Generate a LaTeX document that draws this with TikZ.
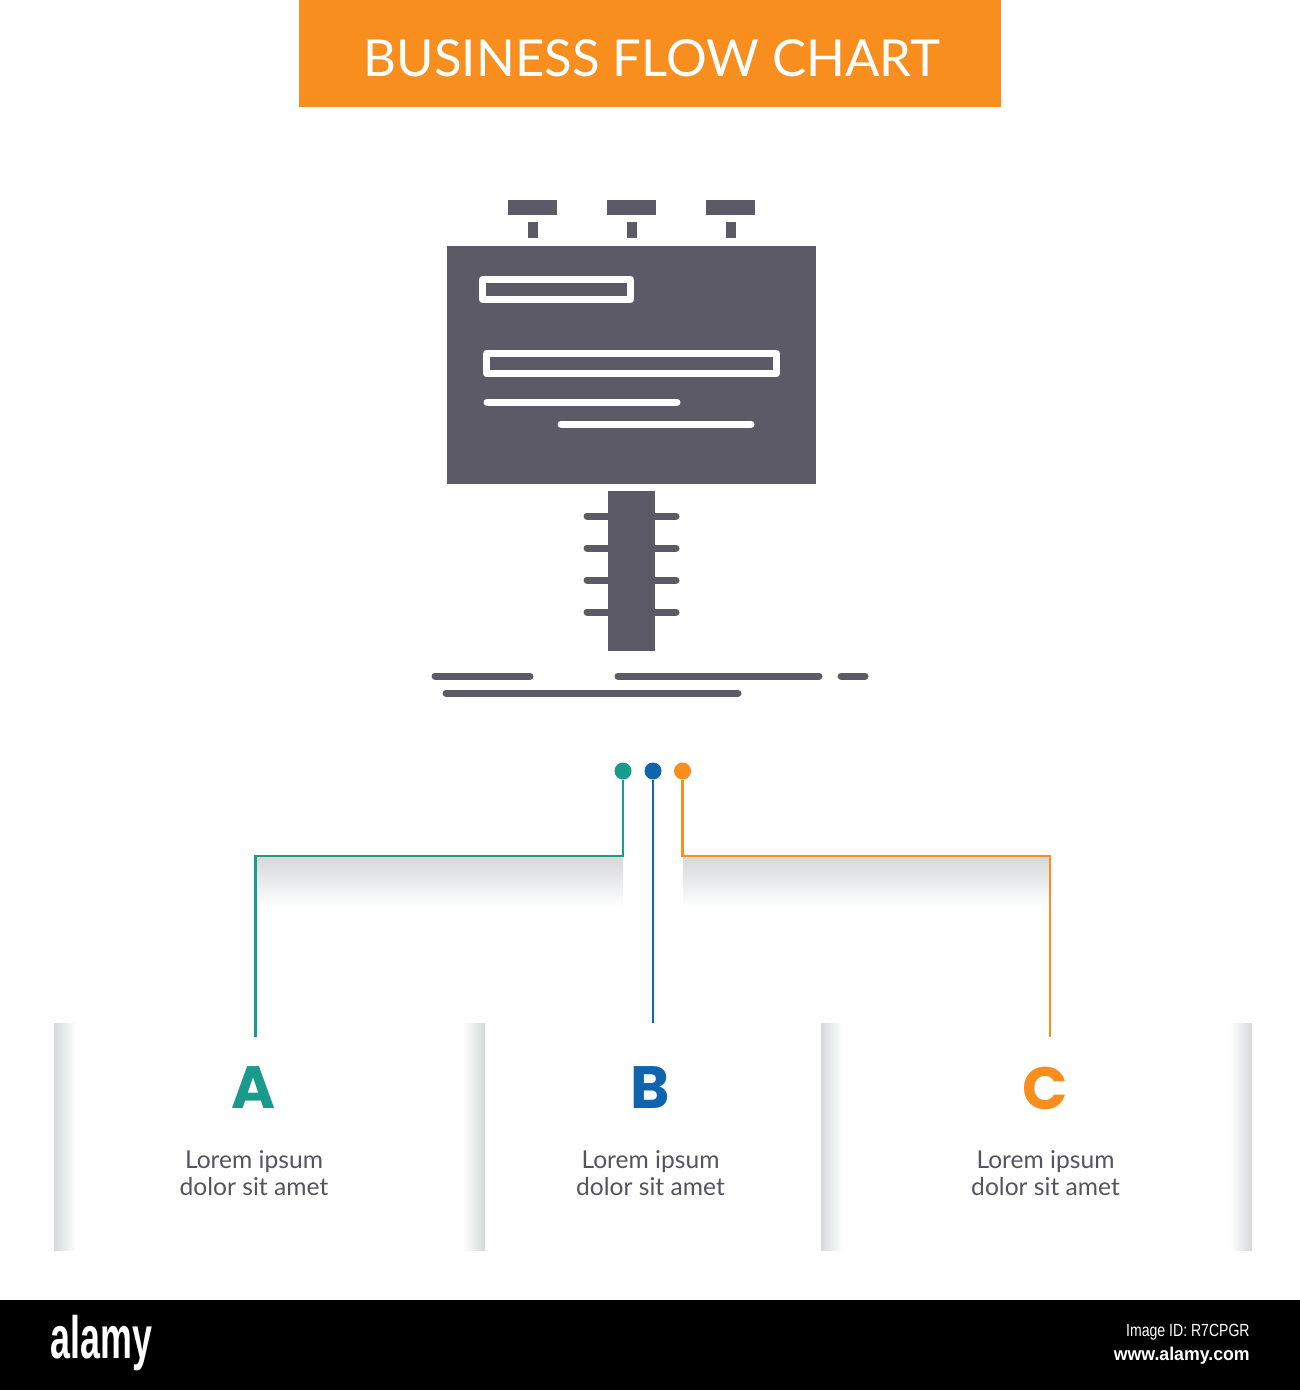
\documentclass[tikz,border=0pt]{standalone}
\usepackage{fontspec}
\setmainfont{Lato}
\newfontfamily\letterfont{Poppins}
\newfontfamily\markfont{Liberation Sans}
\usetikzlibrary{positioning}
\definecolor{slate}{RGB}{91,90,102}
\definecolor{inkgray}{RGB}{85,83,95}
\definecolor{teal}{RGB}{26,154,138}
\definecolor{ocean}{RGB}{15,100,173}
\definecolor{amber}{RGB}{247,142,30}
\definecolor{haze}{RGB}{214,216,217}
\tikzset{
  x=0.02cm,y=-0.02cm,
  solid/.style={fill=slate},
  bar/.style={draw=slate,line width=1.4mm,line cap=round},
  whitebar/.style={draw=white,line width=1.4mm,line cap=round},
  frame/.style={draw=white,line width=1.4mm,line join=round},
  wire/.style={draw=#1,line width=1.25pt},
  dot/.style={circle,fill=#1,inner sep=0pt,minimum size=3.4mm},
  letter/.style={text=#1,font=\letterfont\bfseries\fontsize{34}{36}\selectfont},
  caption/.style={text=inkgray,align=center,font=\fontsize{14}{15.3}\selectfont},
}
\begin{document}
\begin{tikzpicture}
  \useasboundingbox (0,0) rectangle (1300,1390);
  % title
  \fill[amber] (299,0) rectangle (1001,107);
  \node[text=white,font=\fontsize{29}{30}\selectfont] (title) at (652,58) {BUSINESS FLOW CHART};
  % billboard
  \foreach \x in {508,607,706} {
    \fill[solid] (\x,200) rectangle ++(49,15);
    \fill[solid] (\x+20,222) rectangle ++(10,16);
  }
  \fill[solid] (447,246) rectangle (816,484);
  \draw[frame] (482.5,279.5) rectangle (630.5,299.5);
  \draw[frame] (486.5,353.5) rectangle (776.5,373.5);
  \draw[whitebar] (487,402) -- (677,402);
  \draw[whitebar] (561,424) -- (751,424);
  \fill[solid] (608,491) rectangle (655,651);
  \foreach \y in {516,548,580,612} \draw[bar] (587,\y) -- (676,\y);
  \draw[bar] (435,676) -- (530,676);
  \draw[bar] (618,676) -- (819,676);
  \draw[bar] (841,676) -- (865,676);
  \draw[bar] (446,693) -- (738,693);
  % shadows under the wires
  \shade[top color=haze,bottom color=white] (257,857) rectangle (623,908);
  \shade[top color=haze,bottom color=white] (683,857) rectangle (1049,908);
  % panels
  \foreach \x in {54,821} \shade[left color=haze,right color=white] (\x,1023) rectangle ++(22,227);
  \foreach \x in {463,1230} \shade[left color=white,right color=haze] (\x,1023) rectangle ++(22,227);
  % dots, letters, captions
  \foreach \x/\lx/\c/\t in {623/254/teal/A,653/650.5/ocean/B,682.5/1045.5/amber/C} {
    \node[dot=\c] (dot\t) at (\x,771) {};
    \node[letter=\c] (letter\t) at (\lx,1088) {\t};
    \node[caption] (text\t) at (\lx,1173) {Lorem ipsum\\dolor sit amet};
  }
  \coordinate (endA) at (255.5,1037);
  \coordinate (endB) at (653,1023);
  \coordinate (endC) at (1050,1037);
  \draw[wire=teal] (dotA) -- (dotA |- 0,856) -- (endA |- 0,856) -- (endA);
  \draw[wire=ocean] (dotB) -- (endB);
  \draw[wire=amber] (dotC) -- (dotC |- 0,856) -- (endC |- 0,856) -- (endC);
  % footer
  \fill[black] (0,1300) rectangle (1300,1390);
  \node[text=white,anchor=west,inner sep=0pt,font=\markfont\bfseries\fontsize{34}{36}\selectfont] (mark) at (50,1343) {\scalebox{0.6}[1]{alamy}};
  \node[text=white,anchor=east,inner sep=0pt,font=\markfont\fontsize{10}{11}\selectfont] (imgid) at (1250,1332) {\scalebox{0.8}[1]{Image ID: R7CPGR}};
  \node[text=white,anchor=east,inner sep=0pt,font=\markfont\bfseries\fontsize{10.5}{11}\selectfont] (site) at (1250,1356) {\scalebox{0.96}[1]{www.alamy.com}};
\end{tikzpicture}
\end{document}
